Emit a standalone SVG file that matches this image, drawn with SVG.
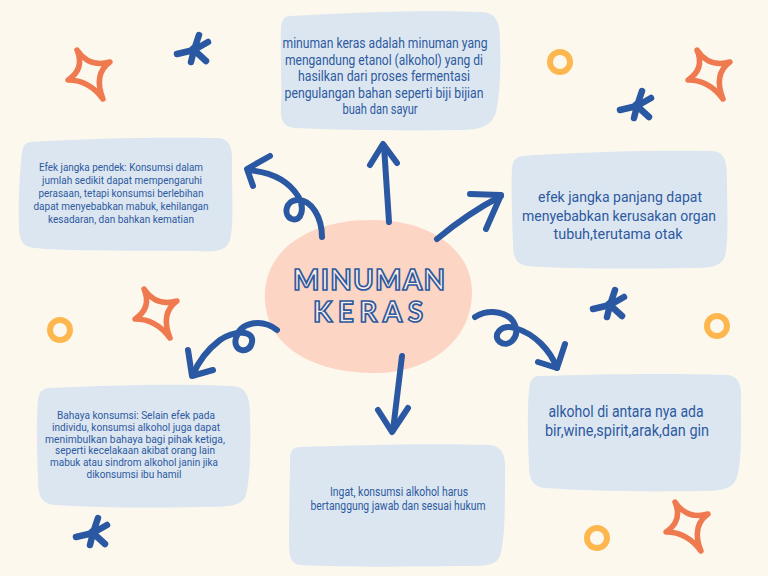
<svg xmlns="http://www.w3.org/2000/svg" width="768" height="576" viewBox="0 0 768 576">
<style>
.bg{fill:#FDF8EE}
.box{fill:#DCE6F1}
.t{font-family:Roboto,"Liberation Sans",sans-serif;fill:#2D5AA0;text-anchor:middle}
.arr{fill:none;stroke:#2A58A2;stroke-width:6;stroke-linecap:round;stroke-linejoin:round}
.spark{fill:none;stroke:#F07A4F;stroke-width:5.5;stroke-linejoin:round;stroke-linecap:round}
.ring{fill:none;stroke:#FDB74E;stroke-width:6}
.ast{fill:none;stroke:#2A58A2;stroke-width:6.5;stroke-linecap:round}
.title{font-family:"Lato","Noto Sans",sans-serif;font-weight:700;font-size:28px;fill:#FDEDE4;stroke:#2D5AA0;stroke-width:1.7;text-anchor:middle}
</style>
<defs>
<path id="sp" class="spark" d="M-13,-23 Q-1,-5 20,-11 Q3,1 13,26 Q-1,7 -22,7 Q-5,-4 -13,-23 Z"/>
<g id="as"><path class="ast" d="M0,0 L5,-15 M0,0 L14,-8 M0,0 L12,11 M0,0 L-3,12 M0,0 L-17,4"/><circle r="5" fill="#2A58A2"/></g>
</defs>
<rect class="bg" x="0" y="0" width="768" height="576"/>

<g id="decor">
<use href="#sp" x="90" y="73"/>
<use href="#sp" x="710" y="73"/>
<use href="#sp" x="157" y="312"/>
<use href="#sp" x="688" y="525"/>
<use href="#as" x="194" y="50"/>
<use href="#as" x="637" y="106"/>
<use href="#as" x="610" y="305"/>
<use href="#as" x="93" y="533"/>
<circle class="ring" cx="560" cy="62" r="10"/>
<circle class="ring" cx="60" cy="330" r="10"/>
<circle class="ring" cx="717" cy="326" r="10"/>
<circle class="ring" cx="597" cy="538" r="10"/>
</g>

<g id="center">
<path d="M265,300 C262,250 310,220 370,220 C430,219 472,250 472,292 C472,340 430,374 372,373 C310,372 267,345 265,300 Z" fill="#FCD5C5"/>
<text class="title" x="369" y="290" textLength="152" lengthAdjust="spacing">MINUMAN</text>
<text class="title" x="368" y="322" textLength="110" lengthAdjust="spacing">KERAS</text>
</g>

<g id="connectors">
<path class="arr" d="M389,222 L384,146"/>
<path class="arr" d="M370,165 L383,144 L397,163"/>
<path class="arr" d="M437,239 C455,224 478,208 501,196"/>
<path class="arr" d="M470,194 L501,195 L486,229"/>
<path class="arr" d="M322,237 C322,218 312,200 298,200 C285,200 283,216 292,219 C302,222 305,207 298,196 C288,180 272,172 248,170"/>
<path class="arr" d="M270,156 L247,169 L253,186"/>
<path class="arr" d="M475,317 C490,308 510,312 515,325 C520,338 508,348 500,342 C492,336 500,324 515,328 C535,334 550,350 557,368"/>
<path class="arr" d="M538,362 L557,368 L565,344"/>
<path class="arr" d="M277,330 C262,318 240,322 236,338 C232,352 250,355 252,342 C254,330 235,330 220,340 C207,350 198,362 193,375"/>
<path class="arr" d="M188,350 L192,376 L213,370"/>
<path class="arr" d="M402,356 L393,430"/>
<path class="arr" d="M378,410 L392,432 L408,408"/>
</g>

<g id="n-top">
<path class="box" d="M290,16 C360,12 430,10 482,12 C496,13 500,22 500,40 C501,70 500,95 496,112 C492,126 480,130 460,130 C400,131 340,130 295,128 C283,127 280,120 281,105 C282,80 280,50 281,30 C281,20 284,16 290,16 Z"/>
<text class="t" font-size="14"><tspan x="385" y="48" textLength="205" lengthAdjust="spacingAndGlyphs">minuman keras adalah minuman yang</tspan><tspan x="384" y="64.5" textLength="198" lengthAdjust="spacingAndGlyphs">mengandung etanol (alkohol) yang di</tspan><tspan x="384" y="81" textLength="172" lengthAdjust="spacingAndGlyphs">hasilkan dari proses fermentasi</tspan><tspan x="384" y="97.5" textLength="199" lengthAdjust="spacingAndGlyphs">pengulangan bahan seperti biji bijian</tspan><tspan x="380" y="114" textLength="75" lengthAdjust="spacingAndGlyphs">buah dan sayur</tspan></text>
</g>

<g id="n-short">
<path class="box" d="M30,142 C90,138 160,137 218,138 C230,139 233,148 232,165 C232,200 234,225 230,240 C226,252 215,252 190,251 C140,250 80,252 35,248 C22,247 19,240 19,225 C18,200 20,170 22,152 C23,145 26,143 30,142 Z"/>
<text class="t" font-size="11.5"><tspan x="121" y="171" textLength="164" lengthAdjust="spacingAndGlyphs">Efek jangka pendek: Konsumsi dalam</tspan><tspan x="122" y="184" textLength="160" lengthAdjust="spacingAndGlyphs">jumlah sedikit dapat mempengaruhi</tspan><tspan x="121" y="197" textLength="165" lengthAdjust="spacingAndGlyphs">perasaan, tetapi konsumsi berlebihan</tspan><tspan x="121" y="210" textLength="175" lengthAdjust="spacingAndGlyphs">dapat menyebabkan mabuk, kehilangan</tspan><tspan x="121" y="223" textLength="146" lengthAdjust="spacingAndGlyphs">kesadaran, dan bahkan kematian</tspan></text>
</g>

<g id="n-long">
<path class="box" d="M522,156 C580,152 650,150 712,151 C724,152 727,160 727,178 C727,210 729,240 725,256 C721,267 710,268 690,268 C630,269 570,269 528,266 C516,265 513,257 513,243 C512,215 511,185 512,168 C513,160 516,157 522,156 Z"/>
<text class="t" font-size="15"><tspan x="620" y="202" textLength="164" lengthAdjust="spacingAndGlyphs">efek jangka panjang dapat</tspan><tspan x="619" y="220.5" textLength="194" lengthAdjust="spacingAndGlyphs">menyebabkan kerusakan organ</tspan><tspan x="618" y="239" textLength="129" lengthAdjust="spacingAndGlyphs">tubuh,terutama otak</tspan></text>
</g>

<g id="n-danger">
<path class="box" d="M48,388 C100,386 170,383 232,386 C246,387 250,396 250,415 C251,450 250,480 246,495 C242,506 230,507 200,507 C150,508 100,508 55,505 C42,504 38,496 38,482 C37,450 36,420 38,400 C39,392 42,389 48,388 Z"/>
<text class="t" font-size="11"><tspan x="136" y="419" textLength="158" lengthAdjust="spacingAndGlyphs">Bahaya konsumsi: Selain efek pada</tspan><tspan x="136" y="431" textLength="168" lengthAdjust="spacingAndGlyphs">individu, konsumsi alkohol juga dapat</tspan><tspan x="135" y="442.5" textLength="180" lengthAdjust="spacingAndGlyphs">menimbulkan bahaya bagi pihak ketiga,</tspan><tspan x="135" y="454" textLength="160" lengthAdjust="spacingAndGlyphs">seperti kecelakaan akibat orang lain</tspan><tspan x="134" y="466" textLength="168" lengthAdjust="spacingAndGlyphs">mabuk atau sindrom alkohol janin jika</tspan><tspan x="134" y="477.5" textLength="95" lengthAdjust="spacingAndGlyphs">dikonsumsi ibu hamil</tspan></text>
</g>

<g id="n-law">
<path class="box" d="M300,447 C360,445 430,443 490,445 C502,446 506,455 505,472 C505,510 505,540 500,556 C496,566 485,566 460,566 C400,567 340,567 300,565 C290,564 289,555 289,540 C289,510 290,480 290,460 C290,450 293,447 300,447 Z"/>
<text class="t" font-size="12"><tspan x="399" y="496" textLength="138" lengthAdjust="spacingAndGlyphs">Ingat, konsumsi alkohol harus</tspan><tspan x="398" y="510" textLength="175" lengthAdjust="spacingAndGlyphs">bertanggung jawab dan sesuai hukum</tspan></text>
</g>

<g id="n-types">
<path class="box" d="M538,376 C600,374 670,373 727,375 C739,376 742,385 741,400 C741,430 742,460 737,477 C733,490 720,491 700,491 C640,492 590,491 545,488 C532,487 529,478 529,465 C528,440 527,410 529,390 C530,381 532,377 538,376 Z"/>
<text class="t" font-size="16"><tspan x="626" y="417" textLength="155" lengthAdjust="spacingAndGlyphs">alkohol di antara nya ada</tspan><tspan x="627" y="436" textLength="164" lengthAdjust="spacingAndGlyphs">bir,wine,spirit,arak,dan gin</tspan></text>
</g>
</svg>
